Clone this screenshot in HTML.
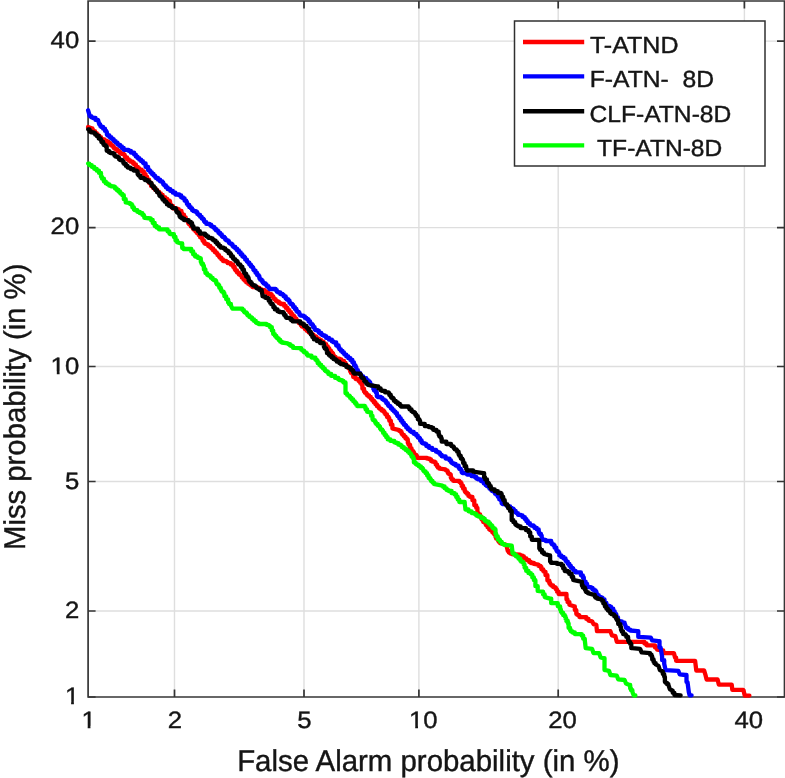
<!DOCTYPE html>
<html lang="en"><head><meta charset="utf-8"><title>DET curves</title>
<style>html,body{margin:0;padding:0;background:#fff}body{width:785px;height:778px;overflow:hidden}svg{display:block}text{font-family:"Liberation Sans",Arial,Helvetica,sans-serif;fill:#151515;stroke:#151515;stroke-width:0.4px;text-rendering:geometricPrecision;white-space:pre}</style></head><body>
<svg width="785" height="778" viewBox="0 0 785 778">
<rect width="785" height="778" fill="#fff"/>
<path d="M174.5 1.0V697.0 M304.0 1.0V697.0 M418.9 1.0V697.0 M558.2 1.0V697.0 M744.4 1.0V697.0 M88.1 611.0H784.5 M88.1 481.5H784.5 M88.1 366.5H784.5 M88.1 227.6H784.5 M88.1 41.1H784.5" stroke="#dedede" stroke-width="1.4" fill="none"/>
<path d="M88.1 1.0H784.5V697.0H88.1Z" stroke="#363636" stroke-width="1.7" fill="none"/>
<path d="M174.5 697.0v-7.5M174.5 1.0v7.5 M304.0 697.0v-7.5M304.0 1.0v7.5 M418.9 697.0v-7.5M418.9 1.0v7.5 M558.2 697.0v-7.5M558.2 1.0v7.5 M744.4 697.0v-7.5M744.4 1.0v7.5 M88.1 697.0h7.5M784.5 697.0h-7.5 M88.1 611.0h7.5M784.5 611.0h-7.5 M88.1 481.5h7.5M784.5 481.5h-7.5 M88.1 366.5h7.5M784.5 366.5h-7.5 M88.1 227.6h7.5M784.5 227.6h-7.5 M88.1 41.1h7.5M784.5 41.1h-7.5" stroke="#343434" stroke-width="1.7" fill="none"/>
<polyline points="88.1,127.0 91.6,128.3 92.4,128.3 92.4,130.2 93.3,130.2 93.3,131.2 95.0,131.2 95.0,132.2 95.0,133.1 96.7,133.1 96.7,134.1 97.6,134.1 97.6,135.6 98.4,135.6 99.3,135.6 99.3,137.1 100.2,137.1 101.0,137.1 101.0,138.6 101.9,138.6 101.9,139.3 104.5,139.3 104.5,140.1 104.5,140.8 107.0,140.8 107.0,141.6 108.3,141.6 108.3,143.1 109.6,143.1 110.4,143.1 110.4,144.7 111.2,144.7 111.2,145.5 112.8,145.5 112.8,146.3 113.6,146.3 113.6,147.9 114.4,147.9 114.4,148.7 116.0,148.7 116.0,149.5 117.3,149.5 117.3,151.2 118.6,151.2 119.8,151.2 119.8,152.9 121.1,152.9 121.1,153.8 123.7,153.8 123.7,154.6 124.6,154.6 124.6,156.5 125.4,156.5 125.4,157.5 127.1,157.5 127.1,158.5 127.1,159.4 128.8,159.4 128.8,160.4 130.1,160.4 130.1,161.7 131.4,161.7 132.7,161.7 132.7,163.0 134.0,163.0 134.0,164.3 135.9,164.3 135.9,165.6 135.9,166.8 137.8,166.8 137.8,168.1 139.1,168.1 139.1,169.7 140.4,169.7 141.7,169.7 141.7,171.3 143.0,171.3 143.8,171.3 143.8,174.1 144.7,174.1 145.6,174.1 145.6,176.9 146.4,176.9 147.2,176.9 147.2,179.7 148.1,179.7 149.1,179.7 149.1,182.9 150.1,182.9 151.0,182.9 151.0,186.1 152.0,186.1 153.0,186.1 153.0,187.9 154.0,187.9 155.0,187.9 155.0,189.8 156.0,189.8 157.0,189.8 157.0,191.7 158.0,191.7 159.0,191.7 159.0,193.5 160.0,193.5 160.9,193.5 160.9,195.0 161.8,195.0 162.7,195.0 162.7,196.6 163.6,196.6 163.6,197.3 165.4,197.3 165.4,198.1 165.4,198.9 167.2,198.9 167.2,199.7 167.2,200.4 169.0,200.4 169.0,201.2 170.0,201.2 170.0,204.4 170.9,204.4 170.9,206.0 172.9,206.0 172.9,207.6 172.9,208.4 176.8,208.4 176.8,209.2 178.7,209.2 178.7,210.8 180.6,210.8 181.4,210.8 181.4,213.4 182.3,213.4 182.3,214.7 184.0,214.7 184.0,216.0 184.0,217.3 185.7,217.3 185.7,218.6 185.7,219.8 187.4,219.8 187.4,220.9 188.2,220.9 188.2,223.3 189.1,223.3 189.1,224.4 190.8,224.4 190.8,225.6 190.8,226.4 192.4,226.4 192.4,227.3 193.1,227.3 193.1,229.0 193.9,229.0 193.9,229.8 195.5,229.8 195.5,230.6 195.5,231.5 197.0,231.5 197.0,232.3 197.0,233.2 198.6,233.2 198.6,234.0 198.6,235.1 200.2,235.1 200.2,236.2 200.2,237.4 201.8,237.4 201.8,238.5 202.6,238.5 202.6,240.8 203.4,240.8 204.2,240.8 204.2,243.0 205.0,243.0 205.0,243.8 207.1,243.8 207.1,244.5 208.2,244.5 208.2,246.0 209.3,246.0 210.3,246.0 210.3,247.5 211.4,247.5 211.4,248.5 213.1,248.5 213.1,249.4 213.1,250.4 214.9,250.4 214.9,251.4 214.9,252.3 216.6,252.3 216.6,253.3 217.4,253.3 217.4,255.1 218.2,255.1 219.0,255.1 219.0,256.8 219.8,256.8 219.8,257.7 221.4,257.7 221.4,258.6 221.4,259.4 223.0,259.4 223.0,260.3 223.0,261.0 226.1,261.0 226.1,261.8 227.7,261.8 227.7,263.2 229.3,263.2 230.8,263.2 230.8,264.7 232.4,264.7 233.2,264.7 233.2,267.0 233.9,267.0 234.7,267.0 234.7,269.3 235.5,269.3 235.5,270.5 237.0,270.5 237.0,271.6 237.0,272.6 238.9,272.6 238.9,273.6 238.9,274.6 240.7,274.6 240.7,275.6 241.7,275.6 241.7,277.6 242.6,277.6 243.5,277.6 243.5,279.6 244.4,279.6 244.4,280.6 246.3,280.6 246.3,281.6 246.3,282.4 248.3,282.4 248.3,283.1 248.3,283.9 250.4,283.9 250.4,284.7 250.4,285.4 252.4,285.4 252.4,286.2 252.4,287.0 257.1,287.0 257.1,287.8 259.4,287.8 259.4,289.3 261.7,289.3 261.7,290.2 264.8,290.2 264.8,291.1 264.8,292.0 267.9,292.0 267.9,292.9 267.9,293.8 271.0,293.8 271.0,294.7 271.8,294.7 271.8,296.4 272.5,296.4 273.3,296.4 273.3,298.2 274.1,298.2 274.1,299.1 275.6,299.1 275.6,299.9 275.6,300.8 277.1,300.8 277.1,301.7 278.9,301.7 278.9,303.2 280.6,303.2 280.6,304.0 284.1,304.0 284.1,304.8 284.1,305.9 285.8,305.9 285.8,306.9 285.8,307.9 287.6,307.9 287.6,309.0 287.6,310.1 289.3,310.1 289.3,311.1 289.3,312.1 291.0,312.1 291.0,313.2 291.0,314.1 292.5,314.1 292.5,315.0 292.5,315.9 294.1,315.9 294.1,316.8 294.8,316.8 294.8,318.6 295.6,318.6 296.4,318.6 296.4,320.4 297.2,320.4 297.2,321.2 298.7,321.2 298.7,322.1 298.7,323.0 300.2,323.0 300.2,323.9 301.0,323.9 301.0,325.6 301.8,325.6 301.8,326.5 303.8,326.5 303.8,327.3 304.8,327.3 304.8,329.1 305.7,329.1 306.7,329.1 306.7,330.8 307.7,330.8 308.7,330.8 308.7,332.4 309.6,332.4 309.6,333.1 311.5,333.1 311.5,333.9 311.5,334.7 313.5,334.7 313.5,335.4 313.5,336.2 315.4,336.2 315.4,337.0 316.6,337.0 316.6,338.6 317.7,338.6 318.9,338.6 318.9,340.1 320.0,340.1 321.2,340.1 321.2,341.6 322.4,341.6 323.5,341.6 323.5,343.2 324.7,343.2 324.7,344.2 326.2,344.2 326.2,345.3 326.2,346.4 327.8,346.4 327.8,347.4 327.8,348.4 329.3,348.4 329.3,349.5 329.3,350.6 330.9,350.6 330.9,351.6 330.9,352.6 332.4,352.6 332.4,353.7 333.2,353.7 333.2,355.7 334.0,355.7 334.0,356.8 335.5,356.8 335.5,357.8 335.5,358.6 339.4,358.6 339.4,359.4 341.3,359.4 341.3,360.9 343.2,360.9 344.0,360.9 344.0,362.8 344.8,362.8 345.5,362.8 345.5,364.8 346.3,364.8 346.3,365.7 347.8,365.7 347.8,366.7 348.6,366.7 348.6,368.6 349.4,368.6 350.2,368.6 350.2,371.4 350.9,371.4 350.9,372.9 352.5,372.9 352.5,374.3 353.2,374.3 353.2,377.1 354.0,377.1 355.6,377.1 355.6,379.1 357.1,379.1 358.6,379.1 358.6,381.0 360.2,381.0 360.2,382.9 361.7,382.9 361.7,384.9 362.4,384.9 362.4,388.7 363.2,388.7 364.0,388.7 364.0,391.4 364.8,391.4 364.8,392.8 366.3,392.8 366.3,394.1 367.2,394.1 367.2,395.5 368.1,395.5 369.1,395.5 369.1,396.9 370.0,396.9 370.8,396.9 370.8,398.8 371.5,398.8 372.3,398.8 372.3,400.6 373.1,400.6 373.9,400.6 373.9,402.5 374.6,402.5 375.4,402.5 375.4,404.3 376.2,404.3 376.9,404.3 376.9,406.2 377.7,406.2 378.7,406.2 378.7,407.9 379.6,407.9 379.6,408.8 381.5,408.8 381.5,409.6 381.5,410.5 383.5,410.5 383.5,411.4 384.4,411.4 384.4,413.1 385.4,413.1 385.4,414.4 387.0,414.4 387.0,415.7 387.0,417.0 388.5,417.0 388.5,418.2 389.3,418.2 389.3,420.8 390.1,420.8 390.9,420.8 390.9,424.7 391.6,424.7 392.4,424.7 392.4,428.6 393.1,428.6 399.3,430.1 399.3,431.0 400.8,431.0 400.8,432.0 401.6,432.0 401.6,433.8 402.4,433.8 402.4,434.8 403.9,434.8 403.9,435.7 403.9,436.6 405.5,436.6 405.5,437.5 405.5,438.5 407.0,438.5 407.0,439.4 407.8,439.4 407.8,443.0 408.5,443.0 408.5,444.8 410.1,444.8 410.1,446.6 410.1,448.4 411.6,448.4 411.6,450.2 411.6,451.2 413.2,451.2 413.2,452.1 413.9,452.1 413.9,454.0 414.7,454.0 414.7,455.0 416.2,455.0 416.2,456.0 417.0,456.0 417.0,457.9 417.8,457.9 427.1,457.9 427.1,458.7 429.7,458.7 429.7,459.4 431.0,459.4 431.0,461.0 432.2,461.0 432.2,461.7 434.8,461.7 434.8,462.5 435.6,462.5 435.6,464.6 436.3,464.6 437.1,464.6 437.1,466.6 437.9,466.6 437.9,467.7 439.4,467.7 439.4,468.7 445.6,469.4 445.6,470.3 447.1,470.3 447.1,471.2 447.8,471.2 447.8,472.9 448.5,472.9 448.5,473.8 450.0,473.8 450.0,474.7 450.8,474.7 450.8,477.8 451.6,477.8 451.6,479.3 453.1,479.3 453.1,480.8 459.3,480.8 459.3,482.1 460.8,482.1 460.8,483.4 461.6,483.4 461.6,486.0 462.4,486.0 463.1,486.0 463.1,488.7 463.9,488.7 464.7,488.7 464.7,491.3 465.5,491.3 465.5,492.6 467.0,492.6 467.0,493.9 468.4,493.9 468.4,495.9 469.7,495.9 469.7,496.8 472.4,496.8 472.4,497.8 472.4,500.3 474.3,500.3 474.3,502.8 474.3,505.3 476.2,505.3 476.2,507.8 477.4,507.8 477.4,513.2 478.5,513.2 478.5,514.5 480.1,514.5 480.1,515.8 480.1,517.0 481.6,517.0 481.6,518.3 481.6,519.6 483.2,519.6 483.2,520.9 483.2,522.0 484.9,522.0 484.9,523.0 485.8,523.0 485.8,525.1 486.6,525.1 487.5,525.1 487.5,527.3 488.4,527.3 489.2,527.3 489.2,529.4 490.1,529.4 490.1,530.2 491.6,530.2 491.6,530.9 492.4,530.9 492.4,532.5 493.2,532.5 493.9,532.5 493.9,534.0 494.7,534.0 495.5,534.0 495.5,537.1 496.2,537.1 496.2,538.7 497.8,538.7 497.8,540.2 498.6,540.2 498.6,541.8 499.4,541.8 500.1,541.8 500.1,543.3 500.9,543.3 506.3,544.8 507.8,551.0 508.8,551.0 508.8,552.5 509.8,552.5 509.8,553.3 511.7,553.3 511.7,554.1 520.0,554.7 520.0,555.6 522.6,555.6 522.6,556.5 523.9,556.5 523.9,558.3 525.1,558.3 526.4,558.3 526.4,560.1 527.7,560.1 529.2,560.1 529.2,562.0 530.8,562.0 530.8,563.0 533.9,563.0 533.9,563.9 538.5,564.7 538.5,565.9 540.5,565.9 540.5,567.0 541.4,567.0 541.4,569.3 542.4,569.3 543.2,569.3 543.2,571.0 544.0,571.0 544.0,571.8 545.5,571.8 545.5,572.6 545.5,575.2 547.4,575.2 547.4,577.9 547.4,580.6 549.3,580.6 549.3,583.2 550.3,583.2 550.3,584.8 551.2,584.8 551.2,585.5 553.1,585.5 553.1,586.3 553.1,587.1 555.1,587.1 555.1,587.9 556.0,587.9 556.0,589.4 557.0,589.4 557.0,591.7 558.6,591.7 558.6,594.0 565.5,594.0 566.5,594.0 566.5,599.4 567.5,599.4 567.5,602.1 569.4,602.1 569.4,604.8 574.0,606.3 574.8,606.3 574.8,610.1 575.5,610.1 576.3,610.1 576.3,614.0 577.1,614.0 577.1,614.8 578.7,614.8 578.7,615.5 579.4,615.5 579.4,617.1 580.2,617.1 586.3,617.1 586.3,618.9 588.5,618.9 588.5,620.6 592.1,621.3 593.5,624.1 596.3,624.8 597.0,631.2 610.4,631.2 611.9,635.4 615.4,636.2 616.8,641.8 644.4,641.8 644.4,643.5 646.5,643.5 646.5,645.3 655.0,645.3 655.0,647.5 657.1,647.5 657.1,649.6 662.1,650.3 663.2,650.3 663.2,653.1 664.2,653.1 673.9,653.1 675.1,657.6 676.1,657.6 676.1,660.8 677.1,660.8 695.1,660.8 696.3,670.5 704.1,670.5 705.3,674.3 706.6,679.5 717.6,679.5 718.8,684.6 731.7,684.6 732.3,689.8 743.3,689.8 744.8,695.6 749.4,695.6" fill="none" stroke="#ff0000" stroke-width="4.3" stroke-linejoin="round" stroke-linecap="round"/>
<polyline points="88.1,110.3 89.6,115.4 89.6,116.1 91.2,116.1 91.2,116.7 91.2,117.3 92.9,117.3 92.9,118.0 95.5,118.0 95.5,119.9 98.0,119.9 99.3,124.4 100.2,124.4 100.2,126.1 101.2,126.1 101.2,127.0 103.1,127.0 103.1,127.9 103.1,128.7 105.0,128.7 105.0,129.6 105.0,130.9 106.3,130.9 106.3,132.1 106.9,132.1 106.9,134.7 107.6,134.7 107.6,135.5 109.4,135.5 109.4,136.3 109.4,137.1 111.2,137.1 111.2,137.9 111.2,138.7 112.9,138.7 112.9,139.5 113.8,139.5 113.8,141.1 114.7,141.1 115.6,141.1 115.6,142.6 116.5,142.6 117.4,142.6 117.4,144.2 118.3,144.2 118.3,144.9 120.1,144.9 120.1,145.7 120.1,146.5 121.9,146.5 121.9,147.3 121.9,148.0 123.7,148.0 123.7,148.8 123.7,149.8 128.5,149.8 128.5,150.8 130.9,150.8 130.9,152.7 133.3,152.7 134.1,152.7 134.1,154.6 134.9,154.6 135.8,154.6 135.8,156.6 136.6,156.6 137.5,156.6 137.5,158.1 138.4,158.1 139.3,158.1 139.3,159.7 140.2,159.7 141.1,159.7 141.1,161.2 142.0,161.2 142.9,161.2 142.9,162.8 143.8,162.8 143.8,163.5 145.6,163.5 145.6,164.3 145.6,166.9 148.1,166.9 148.1,169.4 148.1,170.2 149.6,170.2 149.6,170.9 150.4,170.9 150.4,172.5 151.2,172.5 151.9,172.5 151.9,174.0 152.7,174.0 153.5,174.0 153.5,175.6 154.3,175.6 155.0,175.6 155.0,177.1 155.8,177.1 155.8,178.0 158.0,178.0 158.0,178.8 158.0,179.7 160.1,179.7 160.1,180.6 160.1,181.4 162.3,181.4 162.3,182.3 163.2,182.3 163.2,184.3 164.1,184.3 164.1,185.4 165.9,185.4 165.9,186.4 165.9,187.4 167.7,187.4 167.7,188.4 167.7,189.2 170.3,189.2 170.3,190.1 170.3,190.9 172.8,190.9 172.8,191.8 172.8,192.7 175.4,192.7 175.4,193.5 175.4,194.5 179.2,194.5 179.2,195.4 181.2,195.4 181.2,197.4 183.1,197.4 183.1,198.5 184.6,198.5 184.6,199.6 184.6,200.7 186.2,200.7 186.2,201.8 186.9,201.8 186.9,203.9 187.7,203.9 187.7,205.0 189.3,205.0 189.3,206.1 189.3,207.2 190.8,207.2 190.8,208.3 192.1,208.3 192.1,210.2 193.4,210.2 193.4,211.2 196.0,211.2 196.0,212.2 197.3,212.2 197.3,214.1 198.6,214.1 198.6,215.0 200.1,215.0 200.1,215.9 200.1,216.8 201.7,216.8 201.7,217.7 201.7,218.6 203.2,218.6 203.2,219.5 204.0,219.5 204.0,221.3 204.8,221.3 204.8,222.2 206.3,222.2 206.3,223.1 206.3,223.9 209.5,223.9 209.5,224.7 211.1,224.7 211.1,226.3 212.7,226.3 212.7,227.1 214.4,227.1 214.4,227.9 214.4,228.8 216.0,228.8 216.0,229.6 216.0,230.4 217.7,230.4 217.7,231.2 218.5,231.2 218.5,232.9 219.3,232.9 220.2,232.9 220.2,234.5 221.0,234.5 221.8,234.5 221.8,236.2 222.6,236.2 222.6,237.0 224.3,237.0 224.3,237.8 225.2,237.8 225.2,239.5 226.1,239.5 226.1,240.3 228.0,240.3 228.0,241.1 228.9,241.1 228.9,242.8 229.8,242.8 229.8,243.6 231.6,243.6 231.6,244.4 232.5,244.4 232.5,246.1 233.4,246.1 233.4,246.9 235.3,246.9 235.3,247.7 235.3,248.6 237.1,248.6 237.1,249.4 237.1,250.4 238.9,250.4 238.9,251.4 238.9,252.4 240.7,252.4 240.7,253.5 240.7,254.5 242.4,254.5 242.4,255.5 242.4,256.5 244.2,256.5 244.2,257.5 245.1,257.5 245.1,259.6 246.0,259.6 246.9,259.6 246.9,261.6 247.8,261.6 247.8,262.6 249.3,262.6 249.3,263.6 249.3,264.6 250.9,264.6 250.9,265.6 250.9,266.6 252.4,266.6 252.4,267.6 253.2,267.6 253.2,269.6 254.0,269.6 254.0,270.6 255.5,270.6 255.5,271.6 255.5,272.8 257.1,272.8 257.1,273.9 257.1,275.1 258.6,275.1 258.6,276.2 259.4,276.2 259.4,278.6 260.1,278.6 260.1,279.7 261.7,279.7 261.7,280.9 262.7,280.9 262.7,282.6 263.6,282.6 263.6,283.5 265.5,283.5 265.5,284.4 266.5,284.4 266.5,286.1 267.5,286.1 268.4,286.1 268.4,287.8 269.4,287.8 269.4,289.0 275.6,289.0 275.6,290.1 276.8,290.1 276.8,291.7 277.9,291.7 277.9,292.4 280.2,292.4 280.2,293.2 280.2,294.0 282.5,294.0 282.5,294.8 283.6,294.8 283.6,296.3 284.8,296.3 285.7,296.3 285.7,298.5 286.7,298.5 286.7,299.5 288.5,299.5 288.5,300.6 289.5,300.6 289.5,302.8 290.4,302.8 290.4,303.9 292.2,303.9 292.2,304.9 293.2,304.9 293.2,307.1 294.1,307.1 294.9,307.1 294.9,309.0 295.7,309.0 296.4,309.0 296.4,311.0 297.2,311.0 297.2,311.9 298.8,311.9 298.8,312.9 299.5,312.9 299.5,314.8 300.3,314.8 300.3,315.6 303.4,315.6 303.4,316.4 304.9,316.4 304.9,317.9 306.4,317.9 306.4,318.8 307.9,318.8 307.9,319.6 308.6,319.6 308.6,321.4 309.3,321.4 310.1,321.4 310.1,323.1 310.8,323.1 310.8,324.1 312.3,324.1 312.3,325.2 313.1,325.2 313.1,327.2 313.9,327.2 314.6,327.2 314.6,329.3 315.4,329.3 315.4,330.2 317.7,330.2 317.7,331.0 318.9,331.0 318.9,332.8 320.0,332.8 321.2,332.8 321.2,334.5 322.4,334.5 322.4,335.3 324.7,335.3 324.7,336.2 326.1,336.2 326.1,337.9 327.6,337.9 329.0,337.9 329.0,339.7 330.4,339.7 331.9,339.7 331.9,341.4 333.3,341.4 333.3,342.3 336.2,342.3 336.2,343.2 336.2,345.5 338.6,345.5 338.6,347.8 339.4,347.8 339.4,349.3 340.1,349.3 340.9,349.3 340.9,350.9 341.7,350.9 342.5,350.9 342.5,352.4 343.2,352.4 344.0,352.4 344.0,354.0 344.8,354.0 344.8,354.7 346.3,354.7 346.3,355.5 346.3,356.4 348.3,356.4 348.3,357.3 348.3,358.2 350.4,358.2 350.4,359.1 350.4,360.0 352.4,360.0 352.4,360.9 352.4,362.4 354.0,362.4 354.0,364.0 354.0,365.5 355.5,365.5 355.5,367.1 356.3,367.1 356.3,370.2 357.1,370.2 357.9,370.2 357.9,372.2 358.6,372.2 358.6,373.2 360.2,373.2 360.2,374.3 360.9,374.3 360.9,376.3 361.7,376.3 363.2,376.3 363.2,378.2 364.8,378.2 366.3,378.2 366.3,380.2 367.9,380.2 367.9,381.3 369.4,381.3 369.4,382.3 370.2,382.3 370.2,384.4 370.9,384.4 370.9,385.5 372.5,385.5 372.5,386.6 373.2,386.6 373.2,388.7 374.0,388.7 374.0,390.6 375.9,390.6 375.9,392.4 376.8,392.4 376.8,396.2 377.7,396.2 377.7,397.0 380.8,397.0 380.8,397.8 382.3,397.8 382.3,399.3 383.9,399.3 383.9,400.3 385.4,400.3 385.4,401.2 386.2,401.2 386.2,403.1 387.0,403.1 387.8,403.1 387.8,405.1 388.6,405.1 388.6,406.0 390.1,406.0 390.1,407.0 390.9,407.0 390.9,408.5 391.6,408.5 392.4,408.5 392.4,410.1 393.1,410.1 393.9,410.1 393.9,411.6 394.7,411.6 395.4,411.6 395.4,413.1 396.2,413.1 397.0,413.1 397.0,415.3 397.7,415.3 397.7,416.3 399.3,416.3 399.3,417.4 399.3,418.5 400.8,418.5 400.8,419.6 400.8,420.7 402.4,420.7 402.4,421.7 402.4,422.8 403.9,422.8 403.9,423.9 403.9,424.8 405.5,424.8 405.5,425.7 406.2,425.7 406.2,427.5 407.0,427.5 407.8,427.5 407.8,429.3 408.6,429.3 409.9,429.3 409.9,431.1 411.2,431.1 411.2,432.0 413.7,432.0 413.7,432.9 413.7,433.8 416.3,433.8 416.3,434.7 416.3,435.7 417.8,435.7 417.8,436.6 417.8,437.6 419.4,437.6 419.4,438.5 420.1,438.5 420.1,440.5 420.9,440.5 421.6,440.5 421.6,442.4 422.4,442.4 422.4,443.3 425.0,443.3 425.0,444.2 426.3,444.2 426.3,446.0 427.6,446.0 428.9,446.0 428.9,447.8 430.2,447.8 432.1,447.8 432.1,449.8 434.0,449.8 436.0,449.8 436.0,451.7 437.9,451.7 437.9,452.5 439.4,452.5 439.4,453.2 440.2,453.2 440.2,454.8 441.0,454.8 441.7,454.8 441.7,456.3 442.5,456.3 445.6,456.3 445.6,458.6 448.7,458.6 449.5,458.6 449.5,460.4 450.2,460.4 451.0,460.4 451.0,462.2 451.8,462.2 451.8,463.1 453.3,463.1 453.3,464.0 455.6,464.0 455.6,465.6 457.9,465.6 458.6,465.6 458.6,467.8 459.4,467.8 459.4,469.0 460.8,469.0 460.8,470.1 461.6,470.1 461.6,472.3 462.3,472.3 462.3,473.1 467.0,473.1 467.0,473.9 467.0,474.6 471.6,474.6 471.6,475.4 471.6,476.2 474.7,476.2 474.7,477.0 476.2,477.0 476.2,478.5 477.8,478.5 477.8,479.3 480.9,479.3 480.9,480.1 480.9,481.0 482.8,481.0 482.8,481.8 483.8,481.8 483.8,483.6 484.8,483.6 485.7,483.6 485.7,485.3 486.7,485.3 486.7,486.1 488.6,486.1 488.6,487.0 489.5,487.0 489.5,488.7 490.4,488.7 491.4,488.7 491.4,490.4 492.3,490.4 492.3,491.2 494.1,491.2 494.1,492.1 495.0,492.1 495.0,493.8 496.0,493.8 496.0,494.6 497.8,494.6 497.8,495.5 497.8,496.8 499.3,496.8 499.3,498.1 499.3,499.4 500.9,499.4 500.9,500.6 501.6,500.6 501.6,503.2 502.4,503.2 502.4,504.0 505.5,504.0 505.5,504.7 507.0,504.7 507.0,506.3 508.6,506.3 510.1,506.3 510.1,507.8 511.7,507.8 511.7,508.6 513.2,508.6 513.2,509.4 514.0,509.4 514.0,510.9 514.8,510.9 515.6,510.9 515.6,512.5 516.4,512.5 516.4,513.2 517.9,513.2 517.9,514.0 517.9,514.8 521.0,514.8 521.0,515.5 522.5,515.5 522.5,517.1 524.0,517.1 524.8,517.1 524.8,519.1 525.6,519.1 526.4,519.1 526.4,521.2 527.1,521.2 527.9,521.2 527.9,523.2 528.7,523.2 529.9,523.2 529.9,524.8 531.0,524.8 531.0,525.5 533.3,525.5 533.3,526.3 534.5,526.3 534.5,527.9 535.6,527.9 536.8,527.9 536.8,529.4 537.9,529.4 538.7,529.4 538.7,532.5 539.4,532.5 539.4,534.0 541.0,534.0 541.0,535.6 541.7,535.6 541.7,538.7 542.5,538.7 542.5,539.9 545.6,539.9 545.6,541.0 550.3,541.0 551.2,541.0 551.2,543.2 552.0,543.2 552.0,544.4 553.8,544.4 553.8,545.5 554.6,545.5 554.6,547.7 555.5,547.7 556.3,547.7 556.3,550.3 557.0,550.3 557.0,551.5 558.6,551.5 558.6,552.8 559.3,552.8 559.3,555.4 560.1,555.4 561.2,555.4 561.2,557.0 562.4,557.0 563.6,557.0 563.6,558.5 564.7,558.5 565.5,558.5 565.5,560.6 566.2,560.6 566.2,561.7 567.8,561.7 567.8,562.8 567.8,563.8 569.4,563.8 569.4,564.9 569.4,565.9 570.9,565.9 570.9,567.0 570.9,567.8 572.4,567.8 572.4,568.5 573.2,568.5 573.2,570.1 574.0,570.1 574.0,570.8 575.5,570.8 575.5,571.6 575.5,572.4 580.9,572.4 580.9,573.2 580.9,575.3 582.8,575.3 582.8,577.4 583.8,577.4 583.8,581.6 584.8,581.6 585.6,581.6 585.6,584.0 586.3,584.0 587.1,584.0 587.1,586.3 587.9,586.3 587.9,587.1 591.0,587.1 591.0,587.8 592.5,587.8 592.5,589.4 594.0,589.4 594.0,590.5 595.6,590.5 595.6,591.7 596.4,591.7 596.4,594.0 597.1,594.0 597.1,595.1 598.7,595.1 598.7,596.3 602.5,597.8 602.5,599.5 604.5,599.5 604.5,601.3 604.5,603.0 606.4,603.0 606.4,604.8 606.4,605.8 609.5,605.8 609.5,606.7 611.0,606.7 611.0,608.6 612.5,608.6 613.2,608.6 613.2,611.4 614.0,611.4 614.7,611.4 614.7,614.2 615.4,614.2 616.3,614.2 616.3,617.4 617.1,617.4 618.0,617.4 618.0,620.6 618.9,620.6 618.9,621.3 621.8,621.3 621.8,622.0 621.8,622.7 624.6,622.7 624.6,623.4 626.0,627.0 626.0,627.9 628.1,627.9 628.1,628.8 628.1,629.6 630.2,629.6 630.2,630.5 637.3,631.2 638.3,631.2 638.3,636.9 639.4,636.9 650.7,637.6 652.2,640.4 658.5,641.1 659.5,641.1 659.5,647.5 660.6,647.5 662.1,656.7 662.1,660.2 664.2,660.2 664.2,663.7 665.6,670.1 678.3,670.8 679.7,674.3 685.4,675.0 686.5,675.0 686.5,682.1 687.5,682.1 688.8,692.0 689.6,695.3 691.6,695.3" fill="none" stroke="#0000ff" stroke-width="4.3" stroke-linejoin="round" stroke-linecap="round"/>
<polyline points="88.1,129.3 89.5,129.3 89.5,131.5 90.9,131.5 90.9,132.3 93.8,132.3 93.8,133.1 95.2,133.1 95.2,134.7 96.7,134.7 96.7,136.0 98.7,136.0 98.7,137.2 98.7,138.5 100.6,138.5 100.6,139.8 101.4,139.8 101.4,142.0 102.3,142.0 103.2,142.0 103.2,144.1 104.0,144.1 104.0,145.2 105.7,145.2 105.7,146.3 106.7,146.3 106.7,150.8 107.6,150.8 109.0,150.8 109.0,152.4 110.5,152.4 110.5,153.2 113.4,153.2 113.4,154.0 114.5,154.0 114.5,155.8 115.7,155.8 115.7,156.7 117.9,156.7 117.9,157.6 119.0,157.6 119.0,159.3 120.2,159.3 120.2,160.2 122.4,160.2 122.4,161.1 123.3,161.1 123.3,163.0 124.1,163.0 124.1,163.9 125.9,163.9 125.9,164.9 125.9,165.9 127.6,165.9 127.6,166.8 127.6,167.6 130.6,167.6 130.6,168.3 130.6,169.1 133.6,169.1 133.6,169.8 133.6,170.6 136.6,170.6 136.6,171.3 137.6,171.3 137.6,174.2 138.5,174.2 138.5,175.6 140.4,175.6 140.4,177.1 140.4,177.8 143.4,177.8 143.4,178.6 144.9,178.6 144.9,180.1 146.4,180.1 147.9,180.1 147.9,181.6 149.4,181.6 149.4,182.6 150.9,182.6 150.9,183.5 151.7,183.5 151.7,185.5 152.5,185.5 152.5,186.4 154.0,186.4 154.0,187.4 154.0,188.4 155.6,188.4 155.6,189.4 155.6,190.3 157.1,190.3 157.1,191.3 157.1,192.3 158.6,192.3 158.6,193.4 159.3,193.4 159.3,195.4 160.0,195.4 160.0,196.3 161.5,196.3 161.5,197.2 162.3,197.2 162.3,199.0 163.1,199.0 163.1,199.9 164.6,199.9 164.6,200.8 164.6,201.7 166.2,201.7 166.2,202.6 166.9,202.6 166.9,204.4 167.7,204.4 169.0,204.4 169.0,205.9 170.3,205.9 171.6,205.9 171.6,207.4 172.8,207.4 172.8,208.2 175.4,208.2 175.4,208.9 176.2,208.9 176.2,211.3 177.0,211.3 177.0,212.5 178.7,212.5 178.7,213.8 179.5,213.8 179.5,216.2 180.3,216.2 180.3,217.4 181.9,217.4 181.9,218.6 184.1,218.6 184.1,220.2 186.4,220.2 188.6,220.2 188.6,221.8 190.8,221.8 190.8,223.2 192.1,223.2 192.1,224.7 192.1,226.1 193.4,226.1 193.4,227.6 193.4,228.6 197.9,228.6 197.9,229.5 197.9,231.1 199.8,231.1 199.8,232.7 199.8,233.6 205.0,233.6 205.0,234.6 205.0,235.2 206.6,235.2 206.6,235.9 206.6,236.5 208.2,236.5 208.2,237.2 208.2,237.8 211.1,237.8 211.1,238.5 212.6,238.5 212.6,239.8 214.0,239.8 214.0,240.7 215.6,240.7 215.6,241.6 215.6,242.4 217.2,242.4 217.2,243.3 217.2,244.2 218.8,244.2 218.8,245.1 218.8,245.9 220.4,245.9 220.4,246.8 220.4,247.6 223.6,247.6 223.6,248.4 225.2,248.4 225.2,250.1 226.8,250.1 226.8,251.1 228.6,251.1 228.6,252.2 228.6,253.2 230.4,253.2 230.4,254.3 231.2,254.3 231.2,256.4 232.1,256.4 233.0,256.4 233.0,258.5 233.9,258.5 233.9,259.4 235.4,259.4 235.4,260.2 235.4,261.0 237.0,261.0 237.0,261.9 237.8,261.9 237.8,263.6 238.5,263.6 238.5,264.5 240.1,264.5 240.1,265.3 240.8,265.3 240.8,267.0 241.6,267.0 242.4,267.0 242.4,269.7 243.2,269.7 243.9,269.7 243.9,272.4 244.7,272.4 244.7,273.8 246.2,273.8 246.2,275.1 246.2,276.5 247.8,276.5 247.8,277.8 248.6,277.8 248.6,280.5 249.4,280.5 249.4,281.9 250.9,281.9 250.9,283.2 251.9,283.2 251.9,284.7 253.0,284.7 253.0,285.5 255.0,285.5 255.0,286.3 256.1,286.3 256.1,287.8 257.1,287.8 257.1,288.6 259.4,288.6 259.4,289.4 259.4,290.1 261.7,290.1 261.7,290.9 262.5,295.5 262.5,296.3 265.2,296.3 265.2,297.1 265.2,297.8 267.9,297.8 267.9,298.6 268.7,298.6 268.7,300.8 269.4,300.8 270.2,300.8 270.2,302.9 271.0,302.9 271.0,304.0 272.5,304.0 272.5,305.1 273.3,305.1 273.3,307.2 274.1,307.2 274.8,307.2 274.8,309.4 275.6,309.4 277.5,309.4 277.5,311.3 279.5,311.3 279.5,312.2 283.3,312.2 283.3,313.2 284.1,313.2 284.1,315.1 284.9,315.1 285.6,315.1 285.6,317.1 286.4,317.1 286.4,317.9 289.5,317.9 289.5,318.6 291.1,318.6 291.1,320.2 292.6,320.2 292.6,321.4 300.3,321.4 300.3,322.5 300.3,323.4 302.8,323.4 302.8,324.2 304.0,324.2 304.0,326.0 305.2,326.0 306.5,326.0 306.5,327.7 307.7,327.7 307.7,329.0 309.2,329.0 309.2,330.4 309.2,331.8 310.8,331.8 310.8,333.1 310.8,334.5 312.3,334.5 312.3,335.8 312.3,337.1 313.9,337.1 313.9,338.5 313.9,339.4 317.0,339.4 317.0,340.3 317.0,341.2 320.0,341.2 320.0,342.1 320.0,343.0 323.1,343.0 323.1,343.9 323.9,343.9 323.9,347.0 324.7,347.0 324.7,348.5 326.2,348.5 326.2,350.1 327.0,350.1 327.0,353.2 327.8,353.2 328.8,353.2 328.8,354.9 329.7,354.9 329.7,355.8 331.6,355.8 331.6,356.6 331.6,357.5 333.6,357.5 333.6,358.4 333.6,359.2 335.5,359.2 335.5,360.1 336.8,360.1 336.8,361.7 338.1,361.7 339.4,361.7 339.4,363.2 340.6,363.2 340.6,364.0 343.2,364.0 343.2,364.8 346.3,364.8 346.3,367.1 349.4,367.1 349.4,368.0 350.9,368.0 350.9,368.9 350.9,369.8 352.5,369.8 352.5,370.7 353.2,370.7 353.2,372.5 354.0,372.5 354.0,373.6 360.2,373.6 360.2,374.8 361.0,374.8 361.0,376.8 361.7,376.8 361.7,377.8 363.3,377.8 363.3,378.8 364.0,378.8 364.0,380.8 364.8,380.8 364.8,381.8 366.4,381.8 366.4,382.8 366.4,383.8 367.9,383.8 367.9,384.8 377.1,386.4 378.3,386.4 378.3,388.3 379.5,388.3 380.6,388.3 380.6,390.2 381.8,390.2 381.8,390.9 385.1,390.9 385.1,391.6 385.1,392.4 388.5,392.4 388.5,393.1 389.3,393.1 389.3,395.0 390.1,395.0 390.8,395.0 390.8,397.0 391.6,397.0 391.6,397.9 393.1,397.9 393.1,398.9 393.9,398.9 393.9,400.8 394.7,400.8 395.7,400.8 395.7,402.3 396.8,402.3 397.8,402.3 397.8,403.9 398.8,403.9 399.9,403.9 399.9,405.4 400.9,405.4 400.9,406.5 408.6,406.5 408.6,407.7 409.6,407.7 409.6,409.4 410.5,409.4 411.5,409.4 411.5,411.2 412.5,411.2 412.5,412.1 414.4,412.1 414.4,412.9 415.3,412.9 415.3,414.7 416.3,414.7 416.3,416.2 417.8,416.2 417.8,417.8 417.8,419.3 419.4,419.3 419.4,420.8 420.1,420.8 420.1,423.9 420.9,423.9 424.8,423.9 424.8,426.2 428.6,426.2 428.6,427.1 431.7,427.1 431.7,428.0 433.2,428.0 433.2,429.8 434.8,429.8 436.4,429.8 436.4,431.6 437.9,431.6 438.7,431.6 438.7,435.0 439.4,435.0 439.4,436.6 441.0,436.6 441.0,438.3 441.7,438.3 441.7,441.7 442.5,441.7 446.4,441.7 446.4,444.0 450.2,444.0 451.0,444.0 451.0,445.5 451.7,445.5 451.7,446.3 453.3,446.3 453.3,447.1 454.0,447.1 454.0,448.6 454.8,448.6 454.8,449.4 456.4,449.4 456.4,450.2 457.1,450.2 457.1,451.7 457.9,451.7 458.6,451.7 458.6,454.5 459.4,454.5 459.4,455.9 460.8,455.9 460.8,457.2 460.8,458.6 462.3,458.6 462.3,460.0 463.1,460.0 463.1,463.1 463.9,463.1 464.6,463.1 464.6,466.2 465.4,466.2 466.2,466.2 466.2,469.3 467.0,469.3 467.0,470.5 473.1,470.5 473.1,471.6 483.2,473.1 484.1,473.1 484.1,477.4 485.1,477.4 485.1,479.5 487.0,479.5 487.0,481.6 487.0,482.8 488.5,482.8 488.5,483.9 489.3,483.9 489.3,486.2 490.1,486.2 490.8,486.2 490.8,488.5 491.6,488.5 491.6,489.4 494.7,489.4 494.7,490.3 494.7,491.2 497.8,491.2 497.8,492.1 497.8,493.0 500.9,493.0 500.9,493.9 501.7,493.9 501.7,497.0 502.4,497.0 503.2,497.0 503.2,500.1 504.0,500.1 504.7,500.1 504.7,503.2 505.5,503.2 505.5,504.5 507.3,504.5 507.3,505.8 508.2,505.8 508.2,508.3 509.1,508.3 510.0,508.3 510.0,510.9 510.9,510.9 511.7,510.9 511.7,520.2 512.5,520.2 513.4,520.2 513.4,522.2 514.3,522.2 515.2,522.2 515.2,524.3 516.1,524.3 516.1,525.3 517.9,525.3 517.9,526.3 520.6,526.3 520.6,528.2 523.3,528.2 526.0,528.2 526.0,530.2 528.7,530.2 528.7,532.3 530.2,532.3 530.2,534.5 530.2,536.6 531.8,536.6 531.8,538.7 531.8,539.8 538.5,539.8 538.5,540.8 539.3,540.8 539.3,548.5 540.1,548.5 540.1,549.9 542.0,549.9 542.0,551.2 542.0,552.5 543.9,552.5 543.9,553.9 549.3,555.4 550.1,555.4 550.1,561.6 550.9,561.6 550.9,562.8 557.0,562.8 557.0,563.9 561.6,563.9 561.6,565.5 563.2,565.5 563.2,567.0 563.2,568.5 564.7,568.5 564.7,570.1 564.7,571.0 567.8,571.0 567.8,572.0 569.3,572.0 569.3,573.9 570.9,573.9 571.7,573.9 571.7,577.0 572.5,577.0 573.2,577.0 573.2,580.1 574.0,580.1 580.9,581.6 581.9,581.6 581.9,585.5 582.8,585.5 582.8,587.5 584.8,587.5 584.8,589.4 585.6,589.4 585.6,591.3 586.3,591.3 586.3,592.2 587.9,592.2 587.9,593.2 594.0,594.8 594.8,594.8 594.8,596.7 595.5,596.7 595.5,597.7 597.1,597.7 597.1,598.6 601.8,599.4 601.8,600.8 603.3,600.8 603.3,602.2 603.3,603.6 604.9,603.6 604.9,605.1 604.9,606.5 606.4,606.5 606.4,607.9 606.4,608.8 607.9,608.8 607.9,609.7 607.9,610.6 609.5,610.6 609.5,611.5 610.2,611.5 610.2,613.3 611.0,613.3 611.0,614.1 613.2,614.1 613.2,614.8 614.3,614.8 614.3,616.4 615.4,616.4 616.1,616.4 616.1,618.8 616.8,618.8 616.8,620.1 618.2,620.1 618.2,621.3 618.2,624.1 620.3,624.1 620.3,627.0 621.0,627.0 621.0,630.1 621.8,630.1 621.8,631.7 623.2,631.7 623.2,633.3 623.2,634.2 625.3,634.2 625.3,635.1 626.3,635.1 626.3,636.9 627.4,636.9 628.1,636.9 628.1,640.4 628.8,640.4 628.8,642.1 630.2,642.1 630.2,643.9 631.3,643.9 631.3,648.2 632.4,648.2 640.1,648.9 641.6,652.4 650.0,653.1 650.0,654.7 651.5,654.7 651.5,656.3 652.2,656.3 652.2,659.5 652.9,659.5 653.6,659.5 653.6,662.0 654.3,662.0 654.3,663.2 655.7,663.2 655.7,664.4 658.5,665.8 659.9,670.1 662.8,671.5 662.8,674.1 664.2,674.1 664.2,676.8 664.9,676.8 664.9,682.1 665.6,682.1 665.6,682.8 667.0,682.8 667.0,683.5 667.0,684.2 668.4,684.2 668.4,684.9 669.8,689.2 672.7,690.6 672.7,692.8 674.4,692.8 674.4,695.0 680.6,695.3" fill="none" stroke="#000000" stroke-width="4.3" stroke-linejoin="round" stroke-linecap="round"/>
<polyline points="88.1,163.6 89.3,163.6 89.3,165.2 90.5,165.2 91.7,165.2 91.7,166.8 92.9,166.8 94.2,166.8 94.2,168.8 95.5,168.8 96.7,168.8 96.7,170.7 98.0,170.7 99.0,170.7 99.0,172.9 100.0,172.9 101.0,172.9 101.0,176.8 102.0,176.8 102.0,178.7 103.9,178.7 103.9,180.6 103.9,181.6 105.8,181.6 105.8,182.5 105.8,183.4 107.7,183.4 107.7,184.4 109.3,184.4 109.3,185.7 110.9,185.7 110.9,186.3 114.1,186.3 114.1,187.0 115.0,187.0 115.0,188.5 115.8,188.5 116.7,188.5 116.7,190.0 117.6,190.0 118.4,190.0 118.4,191.5 119.3,191.5 120.0,191.5 120.0,193.0 120.8,193.0 120.8,193.8 122.3,193.8 122.3,194.5 122.3,195.2 123.8,195.2 123.8,196.0 123.8,199.2 125.7,199.2 125.7,202.4 130.2,203.1 130.2,204.2 131.7,204.2 131.7,205.2 132.4,205.2 132.4,207.4 133.2,207.4 133.9,207.4 133.9,209.5 134.7,209.5 134.7,210.2 137.3,210.2 137.3,211.0 137.3,211.8 139.8,211.8 139.8,212.5 139.8,213.2 142.4,213.2 142.4,214.0 142.4,214.9 143.7,214.9 143.7,215.9 144.3,215.9 144.3,217.8 145.0,217.8 150.8,218.5 150.8,220.0 152.7,220.0 152.7,221.5 152.7,223.0 154.7,223.0 154.7,224.5 154.7,226.0 156.6,226.0 156.6,227.5 159.1,227.5 159.1,229.4 161.7,229.4 166.8,229.4 167.6,229.4 167.6,231.4 168.4,231.4 169.3,231.4 169.3,233.3 170.1,233.3 170.1,234.2 173.9,234.2 173.9,235.2 173.9,237.0 175.5,237.0 175.5,238.8 175.5,240.5 177.1,240.5 177.1,242.3 181.0,243.5 182.2,243.5 182.2,248.0 183.5,248.0 183.5,249.0 191.3,249.0 191.3,250.0 191.3,251.4 193.2,251.4 193.2,252.9 193.2,254.4 195.1,254.4 195.1,255.8 195.1,256.5 197.6,256.5 197.6,257.1 197.6,257.8 200.0,257.8 200.0,258.5 200.8,258.5 200.8,262.1 201.6,262.1 201.6,264.0 203.1,264.0 203.1,265.8 203.9,265.8 203.9,269.5 204.6,269.5 205.4,269.5 205.4,273.1 206.2,273.1 207.1,273.1 207.1,274.7 208.0,274.7 208.0,275.4 209.9,275.4 209.9,276.2 210.8,276.2 210.8,277.8 211.7,277.8 212.6,277.8 212.6,279.3 213.6,279.3 213.6,280.1 215.4,280.1 215.4,280.9 216.2,280.9 216.2,283.2 216.9,283.2 216.9,284.4 218.5,284.4 218.5,285.5 219.3,285.5 219.3,287.8 220.1,287.8 220.8,287.8 220.8,290.1 221.6,290.1 221.6,291.6 223.5,291.6 223.5,293.2 224.4,293.2 224.4,296.3 225.3,296.3 226.2,296.3 226.2,299.3 227.2,299.3 228.1,299.3 228.1,302.4 229.0,302.4 229.0,304.0 230.9,304.0 230.9,305.5 232.4,308.6 241.6,308.6 242.4,308.6 242.4,310.1 243.2,310.1 243.9,310.1 243.9,311.7 244.7,311.7 244.7,312.5 246.3,312.5 246.3,313.2 247.1,313.2 247.1,314.8 247.8,314.8 247.8,315.5 249.4,315.5 249.4,316.3 249.4,317.1 251.2,317.1 251.2,317.8 252.2,317.8 252.2,319.4 253.1,319.4 254.0,319.4 254.0,320.9 254.9,320.9 255.8,320.9 255.8,322.5 256.8,322.5 256.8,323.2 258.6,323.2 258.6,324.0 266.3,324.0 266.3,324.8 268.6,324.8 268.6,325.6 269.8,325.6 269.8,327.1 271.0,327.1 271.8,327.1 271.8,330.6 272.5,330.6 273.2,330.6 273.2,334.1 274.0,334.1 274.8,334.1 274.8,335.8 275.6,335.8 276.3,335.8 276.3,337.5 277.1,337.5 277.1,338.3 278.7,338.3 278.7,339.1 278.7,340.0 280.2,340.0 280.2,340.8 280.2,341.7 281.8,341.7 281.8,342.5 287.9,343.3 287.9,344.1 290.0,344.1 290.0,344.8 290.0,345.6 292.0,345.6 292.0,346.4 293.1,346.4 293.1,347.9 294.1,347.9 300.3,348.2 301.2,348.2 301.2,349.8 302.1,349.8 302.1,350.6 304.0,350.6 304.0,351.4 304.0,352.3 305.9,352.3 305.9,353.1 306.8,353.1 306.8,354.7 307.7,354.7 307.7,355.7 311.5,355.7 311.5,356.6 311.5,357.6 315.4,357.6 315.4,358.6 315.4,359.8 316.9,359.8 316.9,360.9 317.7,360.9 317.7,363.2 318.5,363.2 319.4,363.2 319.4,365.0 320.3,365.0 321.2,365.0 321.2,366.8 322.1,366.8 323.0,366.8 323.0,368.6 323.9,368.6 324.8,368.6 324.8,370.4 325.7,370.4 325.7,371.3 327.5,371.3 327.5,372.2 328.4,372.2 328.4,374.0 329.3,374.0 331.2,374.0 331.2,375.9 333.1,375.9 335.1,375.9 335.1,377.9 337.0,377.9 338.3,377.9 338.3,379.4 339.6,379.4 339.6,380.2 342.1,380.2 342.1,381.0 343.4,381.0 343.4,382.5 344.7,382.5 345.5,382.5 345.5,393.3 346.3,393.3 347.1,393.3 347.1,394.9 347.8,394.9 347.8,395.6 349.4,395.6 349.4,396.4 350.1,396.4 350.1,397.9 350.9,397.9 351.6,397.9 351.6,399.5 352.4,399.5 353.2,399.5 353.2,401.3 354.0,401.3 354.8,401.3 354.8,403.1 355.5,403.1 356.3,403.1 356.3,404.9 357.1,404.9 357.1,406.0 364.8,406.0 364.8,407.2 365.6,407.2 365.6,409.5 366.4,409.5 367.1,409.5 367.1,411.8 367.9,411.8 370.5,412.5 371.1,412.5 371.1,415.9 371.8,415.9 372.5,415.9 372.5,419.3 373.1,419.3 373.1,420.2 374.6,420.2 374.6,421.2 375.4,421.2 375.4,423.0 376.2,423.0 376.2,424.0 377.7,424.0 377.7,424.9 377.7,425.8 379.3,425.8 379.3,426.7 380.0,426.7 380.0,428.6 380.8,428.6 380.8,429.7 382.3,429.7 382.3,430.8 383.1,430.8 383.1,432.9 383.9,432.9 384.6,432.9 384.6,435.1 385.4,435.1 386.2,435.1 386.2,437.2 387.0,437.2 387.7,437.2 387.7,439.4 388.5,439.4 390.4,439.4 390.4,440.9 392.4,440.9 394.3,440.9 394.3,442.4 396.2,442.4 396.2,443.2 398.4,443.2 398.4,444.0 398.4,444.7 400.5,444.7 400.5,445.5 401.6,445.5 401.6,447.1 402.7,447.1 403.8,447.1 403.8,448.6 404.8,448.6 405.9,448.6 405.9,450.2 407.0,450.2 407.8,450.2 407.8,451.7 408.5,451.7 409.3,451.7 409.3,453.3 410.1,453.3 410.8,453.3 410.8,454.8 411.6,454.8 411.6,456.7 413.1,456.7 413.1,458.6 413.9,458.6 413.9,462.5 414.7,462.5 415.7,462.5 415.7,464.0 416.8,464.0 416.8,464.8 418.8,464.8 418.8,465.6 418.8,466.3 420.9,466.3 420.9,467.1 420.9,468.0 422.4,468.0 422.4,468.9 423.2,468.9 423.2,470.6 424.0,470.6 424.0,471.5 425.6,471.5 425.6,472.4 425.6,473.2 427.1,473.2 427.1,474.1 427.1,475.5 428.6,475.5 428.6,476.8 428.6,478.1 430.2,478.1 430.2,479.5 431.0,479.5 431.0,481.0 431.7,481.0 432.5,481.0 432.5,482.6 433.3,482.6 434.0,482.6 434.0,484.1 434.8,484.1 442.5,485.6 442.5,486.5 444.6,486.5 444.6,487.4 444.6,488.3 446.6,488.3 446.6,489.2 446.6,490.1 448.7,490.1 448.7,491.0 451.6,491.0 451.6,493.2 454.6,493.2 454.6,494.5 456.2,494.5 456.2,495.8 456.2,497.0 457.7,497.0 457.7,498.3 457.7,499.6 459.3,499.6 459.3,500.9 459.3,502.0 464.7,502.0 464.7,503.2 465.4,508.6 465.4,509.5 468.5,509.5 468.5,510.4 468.5,511.3 471.6,511.3 471.6,512.2 471.6,513.1 474.7,513.1 474.7,514.0 476.2,514.0 476.2,515.5 477.8,515.5 477.8,516.3 480.9,516.3 480.9,517.1 480.9,518.0 483.5,518.0 483.5,518.9 484.8,518.9 484.8,520.7 486.0,520.7 486.0,521.6 488.6,521.6 488.6,522.5 488.6,523.4 490.1,523.4 490.1,524.2 490.1,525.1 491.6,525.1 491.6,526.0 492.4,526.0 492.4,527.7 493.2,527.7 493.2,528.5 494.7,528.5 494.7,529.4 495.5,529.4 495.5,534.0 496.2,534.0 496.2,536.4 497.8,536.4 497.8,538.7 497.8,539.5 499.4,539.5 499.4,540.2 500.1,540.2 500.1,541.8 500.9,541.8 501.7,541.8 501.7,543.3 502.4,543.3 502.4,544.0 504.0,544.0 504.0,544.8 511.7,545.6 512.5,552.5 512.5,553.3 514.2,553.3 514.2,554.0 514.2,554.8 516.0,554.8 516.0,555.6 516.0,556.4 517.7,556.4 517.7,557.2 518.5,557.2 518.5,558.7 519.4,558.7 520.3,558.7 520.3,560.7 521.1,560.7 521.1,561.7 522.9,561.7 522.9,562.7 523.7,562.7 523.7,564.7 524.6,564.7 524.6,567.8 526.2,567.8 526.2,570.9 528.5,570.9 528.5,573.2 530.8,573.2 530.8,574.6 532.3,574.6 532.3,576.0 532.3,577.4 533.9,577.4 533.9,578.8 533.9,580.2 535.4,580.2 535.4,581.6 535.4,586.2 537.7,586.2 537.7,590.9 543.1,591.7 543.1,594.4 544.7,594.4 544.7,597.1 550.1,598.6 551.2,598.6 551.2,603.2 552.4,603.2 557.8,603.2 557.8,606.3 560.1,606.3 560.1,609.4 560.9,609.4 560.9,611.7 561.7,611.7 561.7,612.9 563.2,612.9 563.2,614.0 563.2,615.2 564.8,615.2 564.8,616.4 565.5,616.4 565.5,618.7 566.3,618.7 566.3,621.0 567.8,621.0 567.8,623.3 568.6,623.3 568.6,627.9 569.4,627.9 570.1,627.9 570.1,630.2 570.9,630.2 570.9,631.4 572.4,631.4 572.4,632.5 574.8,632.5 574.8,634.1 577.1,634.1 581.7,634.1 581.7,635.7 583.2,635.7 583.2,637.2 583.2,638.8 584.8,638.8 584.8,640.3 585.7,648.2 592.1,648.9 593.5,653.1 599.1,653.1 600.6,657.4 603.4,658.1 604.5,658.1 604.5,670.1 605.5,670.1 609.0,670.8 610.4,675.0 616.8,675.7 618.2,679.3 624.6,680.0 626.0,683.5 629.5,684.9 630.2,684.9 630.2,688.5 631.0,688.5 631.0,690.2 632.4,690.2 632.4,692.0 633.8,695.5 635.4,695.5" fill="none" stroke="#00ff00" stroke-width="4.3" stroke-linejoin="round" stroke-linecap="round"/>
<text transform="translate(88.6,728.2) scale(1.085,1)" font-size="23.7" text-anchor="middle" xml:space="preserve">1</text>
<text transform="translate(175.0,728.2) scale(1.085,1)" font-size="23.7" text-anchor="middle" xml:space="preserve">2</text>
<text transform="translate(304.5,728.2) scale(1.085,1)" font-size="23.7" text-anchor="middle" xml:space="preserve">5</text>
<text transform="translate(423.3,728.2) scale(1.085,1)" font-size="23.7" text-anchor="middle" xml:space="preserve">10</text>
<text transform="translate(562.6,728.2) scale(1.085,1)" font-size="23.7" text-anchor="middle" xml:space="preserve">20</text>
<text transform="translate(748.8,728.2) scale(1.085,1)" font-size="23.7" text-anchor="middle" xml:space="preserve">40</text>
<text transform="translate(79.2,703.8) scale(1.085,1)" font-size="23.7" text-anchor="end" xml:space="preserve">1</text>
<text transform="translate(79.2,618.3) scale(1.085,1)" font-size="23.7" text-anchor="end" xml:space="preserve">2</text>
<text transform="translate(79.2,488.6) scale(1.085,1)" font-size="23.7" text-anchor="end" xml:space="preserve">5</text>
<text transform="translate(79.2,373.8) scale(1.085,1)" font-size="23.7" text-anchor="end" xml:space="preserve">10</text>
<text transform="translate(79.2,233.8) scale(1.085,1)" font-size="23.7" text-anchor="end" xml:space="preserve">20</text>
<text transform="translate(79.2,47.7) scale(1.085,1)" font-size="23.7" text-anchor="end" xml:space="preserve">40</text>
<rect x="81.81" y="725.93" width="5.86" height="3.77" fill="#fff"/><rect x="90.44" y="725.93" width="5.57" height="3.77" fill="#fff"/>
<rect x="409.35" y="725.93" width="5.86" height="3.77" fill="#fff"/><rect x="417.99" y="725.93" width="5.57" height="3.77" fill="#fff"/>
<rect x="65.25" y="701.53" width="5.86" height="3.77" fill="#fff"/><rect x="73.89" y="701.53" width="5.57" height="3.77" fill="#fff"/>
<rect x="50.95" y="371.53" width="5.86" height="3.77" fill="#fff"/><rect x="59.58" y="371.53" width="5.57" height="3.77" fill="#fff"/>
<text transform="translate(428.3,770.6) scale(0.98,1)" font-size="30.0" text-anchor="middle" xml:space="preserve">False Alarm probability (in %)</text>
<text transform="translate(25.2,406.8) rotate(-90) scale(0.976,1)" font-size="30.0" text-anchor="middle" xml:space="preserve">Miss probability (in %)</text>
<rect x="514.5" y="21" width="250.5" height="145" fill="#fff" stroke="#303030" stroke-width="1.5"/>
<path d="M523 42H584.2" stroke="#ff0000" stroke-width="4.4" fill="none"/>
<text transform="translate(589.9,52.7) scale(1.075,1)" font-size="23.3" text-anchor="start" xml:space="preserve">T-ATND</text>
<path d="M523 76.4H584.2" stroke="#0000ff" stroke-width="4.4" fill="none"/>
<text transform="translate(589.7,87.3) scale(1.06,1)" font-size="23.3" text-anchor="start" xml:space="preserve">F-ATN-  8D</text>
<path d="M523 111.3H584.2" stroke="#000000" stroke-width="4.4" fill="none"/>
<text transform="translate(589.5,122.2) scale(1.057,1)" font-size="23.3" text-anchor="start" xml:space="preserve">CLF-ATN-8D</text>
<path d="M523 145.4H584.2" stroke="#00ff00" stroke-width="4.4" fill="none"/>
<text transform="translate(597.1,155.5) scale(1.055,1)" font-size="23.3" text-anchor="start" xml:space="preserve">TF-ATN-8D</text>
</svg></body></html>
